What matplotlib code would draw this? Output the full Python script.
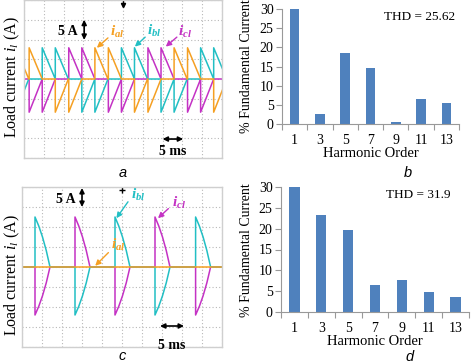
import matplotlib
matplotlib.use("Agg")
import matplotlib.pyplot as plt

plt.rcParams['font.family'] = ['Liberation Serif', 'DejaVu Serif']
plt.rcParams['mathtext.fontset'] = 'custom'
plt.rcParams['mathtext.rm'] = 'Liberation Serif'
plt.rcParams['mathtext.it'] = 'Liberation Serif:italic'
plt.rcParams['mathtext.bf'] = 'Liberation Serif:italic:bold'

# ---------------- data ----------------
# Panel a: pulse start times (ms), phase with positive pulse, phase with negative pulse
a_pulse_t = [-2.1, 1.3, 4.6, 7.9, 11.3, 14.6, 17.9, 21.3, 24.6, 27.9, 31.3, 34.6, 37.9, 41.3, 44.6, 47.9]
a_pos_phase = ['a', 'a', 'b', 'b', 'c', 'c', 'a', 'a', 'b', 'b', 'c', 'c', 'a', 'a', 'b', 'b']
a_neg_phase = ['b', 'c', 'c', 'a', 'a', 'b', 'b', 'c', 'c', 'a', 'a', 'b', 'b', 'c', 'c', 'a']
a_pulse_width = 3.3      # ms
a_peak_pos = 7.9         # A
a_peak_neg = -8.4        # A
a_shape_frac = [0.0, 1.0]
a_shape_val = [1.0, 0.0]

# Panel c: phase a open
c_pulse_t = [3.25, 13.25, 23.25, 33.25, 43.4]
c_pos_phase = ['b', 'c', 'b', 'c', 'b']
c_neg_phase = ['c', 'b', 'c', 'b', 'c']
c_pulse_width = 3.75
c_peak_pos = 12.5
c_peak_neg = -12.0
c_shape_frac = [0.0, 0.25, 0.5, 0.75, 1.0]
c_shape_val = [1.0, 0.82, 0.6, 0.33, 0.0]

# Harmonic spectra
harm_order = ['1', '3', '5', '7', '9', '11', '13']
harm_b = [30.0, 2.6, 18.5, 14.7, 0.6, 6.6, 5.4]
harm_d = [30.0, 23.4, 19.6, 6.6, 7.6, 4.7, 3.5]
thd_b = 'THD = 25.62'
thd_d = 'THD = 31.9'

colors = {'a': '#F5A023', 'b': '#22BFC4', 'c': '#C432C4'}
bar_color = '#4F81BD'

W, H = 474, 364
fig = plt.figure(figsize=(W / 100, H / 100), dpi=100)


def px_axes(x0, y0, x1, y1):
    return fig.add_axes([x0 / W, 1 - y1 / H, (x1 - x0) / W, (y1 - y0) / H])


def phase_path(ph, times, pos, neg, width, pk_pos, pk_neg, sf, sv):
    pts = [(-10.0, 0.0)]
    for t0, p, n in zip(times, pos, neg):
        if ph == p:
            pk = pk_pos
        elif ph == n:
            pk = pk_neg
        else:
            continue
        pts.append((t0, 0.0))
        for f, v in zip(sf, sv):
            pts.append((t0 + f * width, pk * v))
    pts.append((60.0, 0.0))
    xs, ys = zip(*pts)
    return xs, ys


def scope(ax):
    ax.set_xlim(0, 50)
    ax.set_ylim(-20, 20)
    ax.set_xticks(range(0, 51, 5))
    ax.set_yticks(range(-20, 21, 5))
    ax.grid(True, ls=(0, (1, 2)), color='#b8b8b8', lw=0.8)
    ax.tick_params(length=0, labelbottom=False, labelleft=False)
    for s in ax.spines.values():
        s.set_color('#cfcfcf')
        s.set_linewidth(1.0)
    ax.set_facecolor('white')


def darrow(ax, p0, p1):
    ax.annotate('', xy=p1, xytext=p0,
                arrowprops=dict(arrowstyle='<|-|>', color='black', lw=1.2,
                                mutation_scale=7, shrinkA=0, shrinkB=0))


def label_arrow(ax, txt, col, tpos, a0, a1):
    ax.text(tpos[0], tpos[1], txt, color=col, fontsize=11, ha='center', va='center')
    ax.annotate('', xy=a1, xytext=a0,
                arrowprops=dict(arrowstyle='-|>', color=col, lw=1.0,
                                mutation_scale=8, shrinkA=0, shrinkB=0))


# ---------------- panel a ----------------
axa = px_axes(24, 0, 222, 158)
scope(axa)
for ph in ['c', 'b', 'a']:
    xs, ys = phase_path(ph, a_pulse_t, a_pos_phase, a_neg_phase, a_pulse_width,
                        a_peak_pos, a_peak_neg, a_shape_frac, a_shape_val)
    axa.plot(xs, ys, color=colors[ph], lw=1.1)
darrow(axa, (15.2, 9.9), (15.2, 15.0))
axa.text(11.1, 11.9, '5 A', fontsize=10, fontweight='bold', ha='center', va='center')
darrow(axa, (35.0, -15.2), (40.2, -15.2))
axa.text(37.6, -18.4, '5 ms', fontsize=10, fontweight='bold', ha='center', va='center')
label_arrow(axa, r'$\mathbf{i_{al}}$', colors['a'], (23.6, 12.0), (21.2, 10.4), (18.4, 7.9))
label_arrow(axa, r'$\mathbf{i_{bl}}$', colors['b'], (32.8, 12.2), (30.6, 10.6), (28.0, 8.2))
label_arrow(axa, r'$\mathbf{i_{cl}}$', colors['c'], (40.6, 12.0), (38.6, 10.6), (35.8, 8.2))
axa.plot([25, 25], [20, 18.6], color='black', lw=1.0, clip_on=False)
axa.plot([25], [18.8], marker='v', color='black', ms=3)

# ---------------- panel c ----------------
axc = px_axes(22, 187, 222, 347)
scope(axc)
for ph in ['c', 'b', 'a']:
    xs, ys = phase_path(ph, c_pulse_t, c_pos_phase, c_neg_phase, c_pulse_width,
                        c_peak_pos, c_peak_neg, c_shape_frac, c_shape_val)
    axc.plot(xs, ys, color=colors[ph], lw=1.1)
darrow(axc, (15.0, 15.0), (15.0, 19.75))
axc.text(11.0, 16.9, '5 A', fontsize=10, fontweight='bold', ha='center', va='center')
darrow(axc, (34.5, -14.75), (40.5, -14.75))
axc.text(37.5, -19.6, '5 ms', fontsize=10, fontweight='bold', ha='center', va='center')
label_arrow(axc, r'$\mathbf{i_{bl}}$', colors['b'], (29.2, 18.0), (26.5, 16.3), (23.6, 12.2))
label_arrow(axc, r'$\mathbf{i_{cl}}$', colors['c'], (39.2, 16.0), (36.6, 14.6), (34.0, 12.2))
label_arrow(axc, r'$\mathbf{i_{al}}$', colors['a'], (24.0, 5.6), (21.6, 3.6), (18.3, 0.3))
axc.plot([25], [19.2], marker='+', color='black', ms=4, mew=1.0)

for yc in (77, 275):
    fig.text(12 / W, 1 - yc / H, r'Load current $i_l$ (A)', rotation=90,
             fontsize=11.5, ha='center', va='center')


# ---------------- bar panels ----------------
def bars(ax, vals, thd, thd_xy, ylab_xy):
    x = list(range(len(harm_order)))
    ax.bar(x, vals, width=0.38, color=bar_color)
    ax.set_xlim(-0.5, len(harm_order) - 0.5)
    ax.set_ylim(0, 30)
    ax.set_yticks(range(0, 31, 5))
    ax.set_xticks(x)
    ax.set_xticklabels(harm_order)
    ax.set_xticks([i - 0.5 for i in range(len(harm_order) + 1)], minor=True)
    ax.tick_params(axis='x', which='major', length=0, labelsize=10, pad=7)
    ax.tick_params(axis='x', which='minor', length=4, color='#999999', width=0.8)
    ax.tick_params(axis='y', length=4, color='#999999', width=0.8, labelsize=10, pad=2)
    for s in ('top', 'right'):
        ax.spines[s].set_visible(False)
    for s in ('left', 'bottom'):
        ax.spines[s].set_color('#999999')
        ax.spines[s].set_linewidth(0.8)
    ax.set_xlabel('Harmonic Order', fontsize=10.5, labelpad=0.5)
    fig.text(ylab_xy[0] / W, 1 - ylab_xy[1] / H, '% Fundamental Current', rotation=90,
             fontsize=10, ha='center', va='center')
    ax.text(thd_xy[0], thd_xy[1], thd, fontsize=9.5, ha='center', va='center')


axb = px_axes(282, 9, 459, 124)
bars(axb, harm_b, thd_b, (4.95, 27.9), (247, 66))
axd = px_axes(281, 187, 469, 312)
bars(axd, harm_d, thd_d, (4.6, 28.2), (247, 250))

for txt, x, y in (('a', 123, 173), ('b', 408, 173), ('c', 122, 356), ('d', 410, 357)):
    fig.text(x / W, 1 - y / H, txt, fontsize=10.5, style='italic', family='Liberation Sans',
             ha='center', va='center')

fig.savefig('out.png', dpi=100)
